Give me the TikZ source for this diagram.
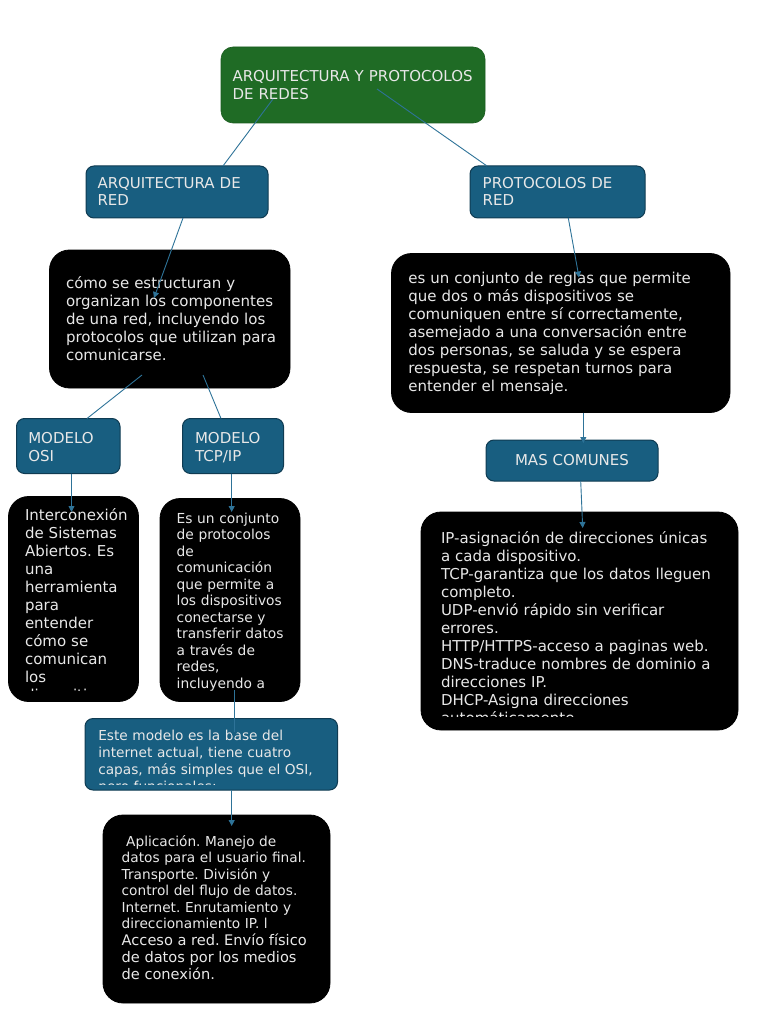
\documentclass[tikz,border=0pt]{standalone}
\usepackage{fontspec}
\setmainfont{DejaVu Sans}
\usetikzlibrary{arrows.meta,calc}
\frenchspacing
\definecolor{gboxc}{HTML}{1F6B25}
\definecolor{boxblue}{HTML}{185E80}
\definecolor{bborder}{HTML}{0F3B52}
\definecolor{connc}{HTML}{2E7398}
\definecolor{ltxt}{HTML}{E8E8E8}
\tikzset{
  greenbox/.style={draw=gboxc!85!black, fill=gboxc, rounded corners=12pt, anchor=north west, inner sep=0pt, outer sep=0pt, line width=0.6pt},
  bluebox/.style={draw=bborder, fill=boxblue, rounded corners=8pt, anchor=north west, inner sep=0pt, outer sep=0pt, line width=1pt},
  blackbox/.style={draw=black, fill=black, rounded corners=20pt, anchor=north west, inner sep=0pt, outer sep=0pt, line width=0.8pt},
  txt/.style={anchor=north west, inner sep=0pt, outer sep=0pt, text=ltxt, align=left, text width=340pt},
  fA/.style={font=\fontsize{15}{18}\selectfont},
  fH/.style={font=\fontsize{15}{17.5}\selectfont},
  fB/.style={font=\fontsize{13.8}{16.55}\selectfont},
  fC/.style={font=\fontsize{13.7}{17}\selectfont},
  fD/.style={font=\fontsize{13.7}{16.5}\selectfont},
  conn/.style={draw=connc, line width=0.9pt},
  arr/.style={conn, -{Triangle[length=6pt,width=6pt]}},
}
\newcommand{\fs}{\rule{0pt}{13pt}}
\begin{document}
\begin{tikzpicture}[x=1pt,y=-1pt]
\useasboundingbox (0,0) rectangle (768,1024);
% boxes
\node[greenbox, minimum width=264pt, minimum height=76pt] (title) at (221,47) {};
\node[bluebox, minimum width=182pt, minimum height=52pt] (arq) at (86,166) {};
\node[bluebox, minimum width=175pt, minimum height=52pt] (proto) at (470,166) {};
\node[blackbox, minimum width=240.5pt, minimum height=138pt] (como) at (49.5,250) {};
\node[blackbox, minimum width=338.5pt, minimum height=159pt] (pbox) at (391.5,253.5) {};
\node[bluebox, minimum width=103.5pt, minimum height=55pt] (osi) at (16.5,418.5) {};
\node[bluebox, minimum width=101pt, minimum height=55pt] (tcp) at (182.5,418.5) {};
\node[blackbox, minimum width=130pt, minimum height=205pt] (osibox) at (8.5,496.5) {};
\node[blackbox, minimum width=140pt, minimum height=203pt] (tcpbox) at (160,498.5) {};
\node[bluebox, minimum width=172pt, minimum height=41pt] (mas) at (486,440) {};
\node[blackbox, minimum width=317pt, minimum height=218pt] (ipbox) at (421,512) {};
\node[bluebox, minimum width=252.5pt, minimum height=71.5pt] (este) at (85,718.5) {};
\node[blackbox, minimum width=227pt, minimum height=188pt] (capas) at (103,815) {};
% texts
\node[txt, fH] (titleT) at (232.5,69) {\fs ARQUITECTURA Y PROTOCOLOS\\DE REDES};
\node[txt, fH] (arqT) at (97.5,175.3) {\fs ARQUITECTURA DE\\RED};
\node[txt, fH] (protoT) at (482.7,175.3) {\fs PROTOCOLOS DE\\RED};
\node[txt, fA] (comoT) at (66,275.3) {\fs cómo se estructuran y\\organizan los componentes\\de una red, incluyendo los\\protocolos que utilizan para\\comunicarse.};
\node[txt, fA] (pboxT) at (408.3,270.3) {\fs es un conjunto de reglas que permite\\que dos o más dispositivos se\\comuniquen entre sí correctamente,\\asemejado a una conversación entre\\dos personas, se saluda y se espera\\respuesta, se respetan turnos para\\entender el mensaje.};
\node[txt, font=\fontsize{15}{17.7}\selectfont] (osiT) at (28.3,430.3) {\fs MODELO\\OSI};
\node[txt, font=\fontsize{15}{17.7}\selectfont] (tcpT) at (195,430.3) {\fs MODELO\\TCP/IP};
\node[anchor=north, inner sep=0pt, text=ltxt, fA] (masT) at (572,452.7) {\fs MAS COMUNES};
\begin{scope}
\clip (8,497) rectangle (139,690.5);
\node[txt, fA] (osiboxT) at (25,507.5) {\fs Interconexión\\de Sistemas\\Abiertos. Es\\una\\herramienta\\para\\entender\\cómo se\\comunican\\los\\dispositivos};
\end{scope}
\begin{scope}
\clip (160,498) rectangle (300,691);
\node[txt, fB] (tcpboxT) at (176.7,510) {\fs Es un conjunto\\de protocolos\\de\\comunicación\\que permite a\\los dispositivos\\conectarse y\\transferir datos\\a través de\\redes,\\incluyendo a};
\end{scope}
\begin{scope}
\clip (85,718) rectangle (338,784);
\node[txt, fC] (esteT) at (98.3,727) {\fs Este modelo es la base del\\internet actual, tiene cuatro\\capas, más simples que el OSI,\\pero funcionales:};
\end{scope}
\begin{scope}
\clip (421,512) rectangle (738,716.5);
\node[txt, fA] (ipboxT) at (441,530.3) {\fs IP-asignación de direcciones únicas\\a cada dispositivo.\\TCP-garantiza que los datos lleguen\\completo.\\UDP-envió rápido sin verificar\\errores.\\HTTP/HTTPS-acceso a paginas web.\\DNS-traduce nombres de dominio a\\direcciones IP.\\DHCP-Asigna direcciones\\automáticamente};
\end{scope}
\node[txt, fD] (capasT) at (121.7,833) {\fs\hspace{4.5pt}Aplicación. Manejo de\\datos para el usuario final.\\Transporte. División y\\control del flujo de datos.\\Internet. Enrutamiento y\\direccionamiento IP. l\par\fontsize{14.6}{17}\selectfont Acceso a red. Envío físico\\de datos por los medios\\de conexión.};
% connectors
\draw[conn] ($(title.north west)+(52,52)$) -- ($(arq.north west)+(137,0)$);
\draw[conn] ($(title.north west)+(156,42)$) -- ($(proto.north west)+(17,0)$);
\draw[arr] ($(arq.north west)+(97,52)$) -- ($(como.north west)+(104.5,48)$);
\draw[conn] ($(como.north west)+(92.5,125)$) -- ($(osi.north west)+(70.5,0)$);
\draw[conn] ($(como.north west)+(153.5,125)$) -- ($(tcp.north west)+(38.5,0)$);
\draw[arr] ($(osi.north west)+(55,55)$) -- ($(osibox.north west)+(63,15.5)$);
\draw[arr] ($(tcp.north west)+(49.2,55)$) -- ($(tcpbox.north west)+(71.7,13.5)$);
\draw[conn, -{Triangle[length=6pt,width=6pt,color=boxblue]}] ($(tcpbox.north west)+(74,191.5)$) -- ($(este.north west)+(149,19.5)$);
\draw[arr] ($(este.north west)+(146.7,71.5)$) -- ($(capas.north west)+(128.7,11)$);
\draw[arr] ($(proto.north west)+(98.3,52)$) -- ($(pbox.north west)+(187.5,24)$);
\draw[arr] ($(pbox.north west)+(191.8,159)$) -- ($(mas.north west)+(97.3,3)$);
\draw[arr] ($(mas.north west)+(94.7,41)$) -- ($(ipbox.north west)+(161.7,16)$);
\end{tikzpicture}
\end{document}
